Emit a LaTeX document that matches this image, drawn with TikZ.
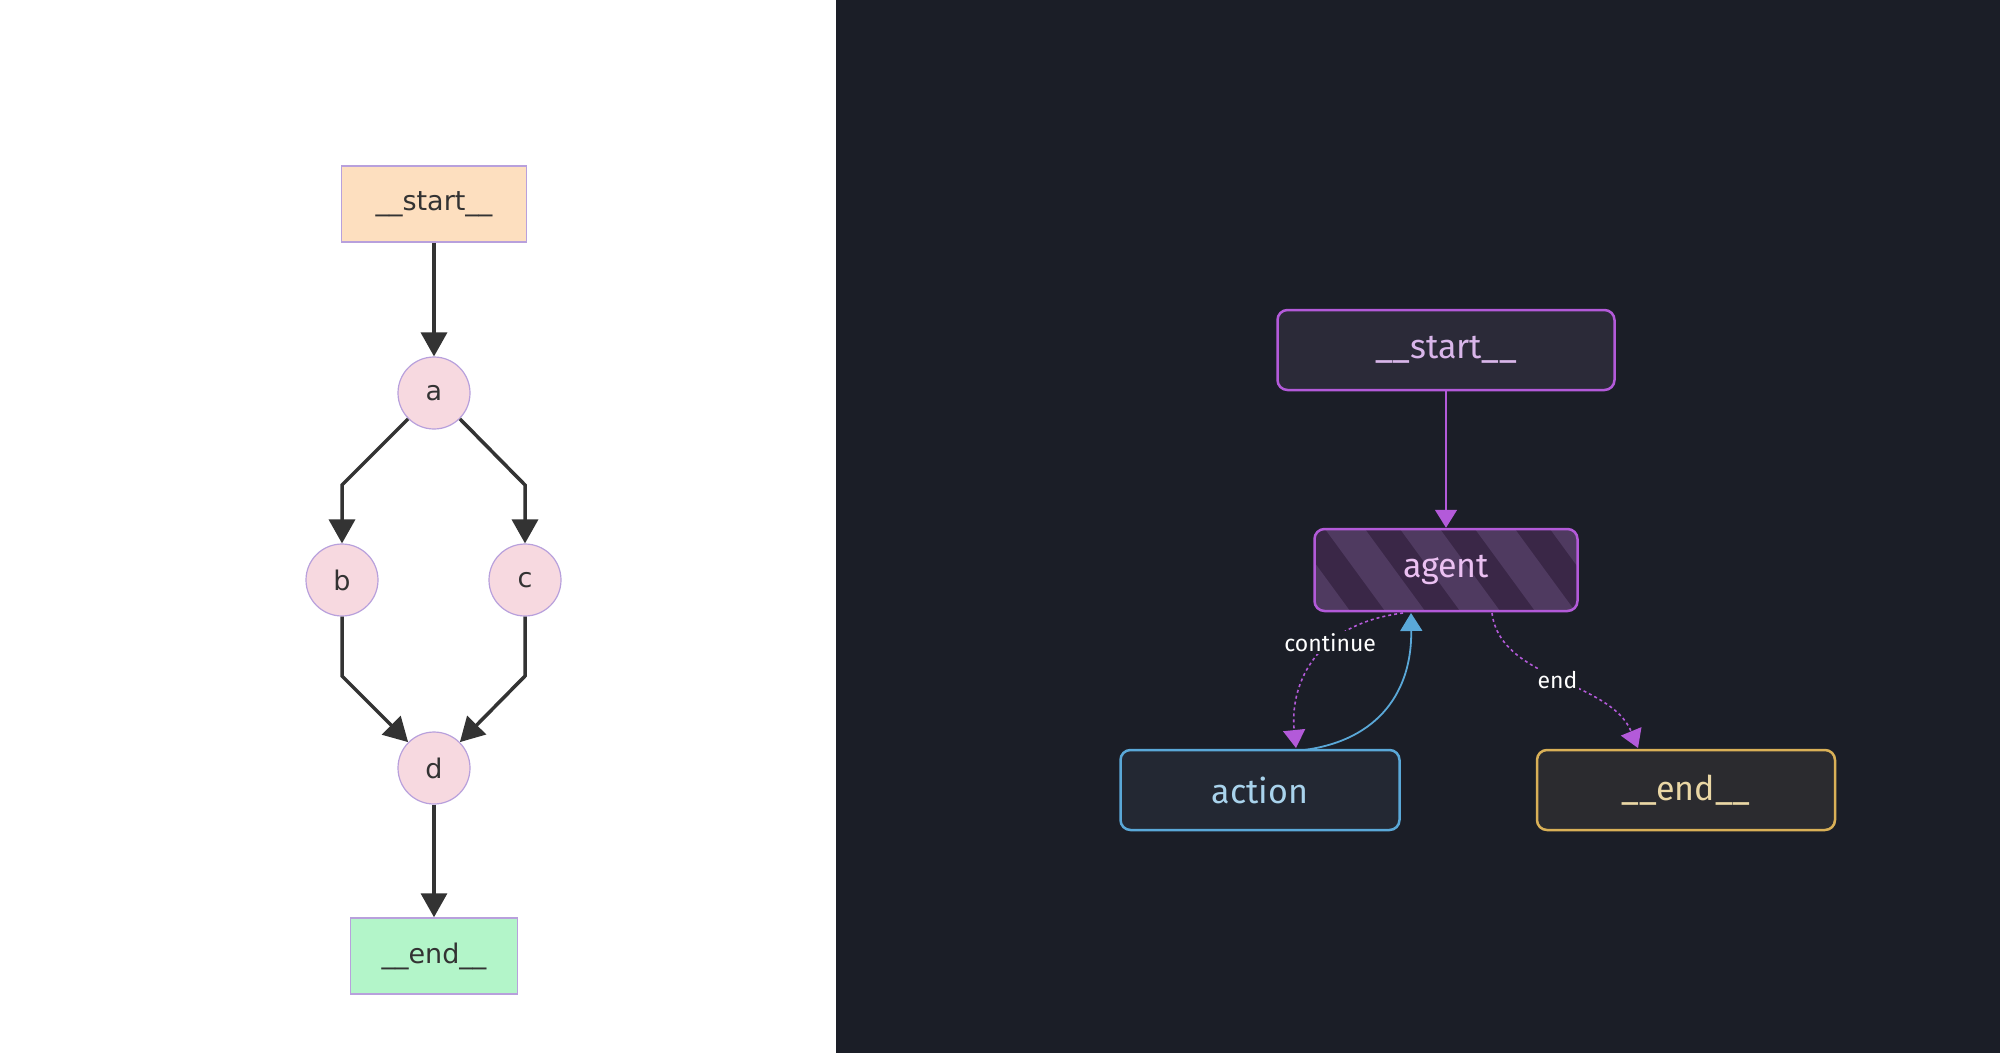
\documentclass[tikz,border=0pt]{standalone}
\usepackage{fontspec}
\setmainfont{DejaVu Sans}
\newfontfamily\darkfont{Fira Sans}
\usetikzlibrary{arrows.meta}
\definecolor{darkbg}{HTML}{1B1E27}
\definecolor{lborder}{HTML}{B8A0DC}
\definecolor{peach}{HTML}{FDDFBF}
\definecolor{mint}{HTML}{B3F5C9}
\definecolor{pinkc}{HTML}{F7D9E0}
\definecolor{edgek}{HTML}{333333}
\definecolor{purp}{HTML}{B35AD9}
\definecolor{bluee}{HTML}{5AA8D8}
\definecolor{gold}{HTML}{D9B057}
\definecolor{stripeA}{HTML}{3A2747}
\definecolor{stripeB}{HTML}{4F3A60}
\definecolor{sfill}{HTML}{2B2A38}
\definecolor{afill}{HTML}{232833}
\definecolor{efill}{HTML}{2B2B2F}
\definecolor{stext}{HTML}{D9B6EA}
\definecolor{agtext}{HTML}{EBC0F2}
\definecolor{actext}{HTML}{A9D3EC}
\definecolor{etext}{HTML}{EAD7A5}
\tikzset{
  lbox/.style={draw=lborder,line width=1.5pt,minimum width=185pt,minimum height=76pt,font=\fontsize{27}{30}\selectfont,text=black!80},
  lcirc/.style={circle,draw=lborder,line width=1.2pt,fill=pinkc,minimum size=72pt,inner sep=0pt,font=\fontsize{27}{30}\selectfont,text=black!80},
  ledge/.style={draw=edgek,line width=3.5pt,-{Triangle[length=24pt,width=26pt]}},
  dbox/.style={rounded corners=10pt,line width=2.5pt,minimum height=80pt,font=\darkfont\fontsize{34}{38}\selectfont},
  dtip/.style={-{Triangle[length=18pt,width=22pt]}},
  dlabel/.style={font=\darkfont\fontsize{23}{26}\selectfont,text=white,fill=darkbg,inner sep=2pt}
}
\begin{document}
\begin{tikzpicture}[x=1pt,y=-1pt]
\useasboundingbox (0,0) rectangle (2000,1053);
\fill[white] (0,0) rectangle (836,1053);
\fill[darkbg] (836,0) rectangle (2000,1053);
% left
\node[lbox,fill=peach] (ls) at (434,204) {\_\_start\_\_};
\node[lcirc] (a) at (434,393) {a};
\node[lcirc] (b) at (342,580) {b};
\node[lcirc] (c) at (525,580) {c};
\node[lcirc] (d) at (434,768) {d};
\node[lbox,fill=mint,minimum width=167pt] (le) at (434,956) {\_\_end\_\_};
\draw[ledge] (ls) -- (a);
\draw[ledge] (a.225) -- (342,485) -- (b);
\draw[ledge] (a.315) -- (525,485) -- (c);
\draw[ledge] (b) -- (342,676) -- (d.135);
\draw[ledge] (c) -- (525,676) -- (d.45);
\draw[ledge] (d) -- (le);
% right
\node[dbox,draw=purp,fill=sfill,minimum width=337pt,text=stext] (rs) at (1446,350) {\_\_start\_\_};
\begin{scope}
\clip[rounded corners=10pt] (1315,529) rectangle (1578,611);
\fill[stripeA] (1315,529) rectangle (1578,611);
\foreach \i in {0,...,7}{
  \fill[stripeB] ({1250+\i*75},529) -- ({1290+\i*75},529) -- ({1350+\i*75},611) -- ({1310+\i*75},611) -- cycle;
}
\end{scope}
\node[dbox,draw=purp,minimum width=263pt,minimum height=82pt,text=agtext] (ag) at (1446,570) {agent};
\node[dbox,draw=bluee,fill=afill,minimum width=279pt,text=actext] (ac) at (1260,790) {action};
\node[dbox,draw=gold,fill=efill,minimum width=298pt,text=etext] (re) at (1686,790) {\_\_end\_\_};
\coordinate (cs) at (1403,613);
\coordinate (ce) at (1296,748);
\coordinate (bs) at (1304,750);
\coordinate (be) at (1411,613);
\coordinate (es) at (1492,613);
\coordinate (ee) at (1638,748);
\draw[purp,line width=1.8pt,dtip] (rs) -- (ag);
\draw[purp,line width=1.6pt,dashed,dtip] (cs) .. controls (1310,625) and (1290,690) .. (ce)
  node[pos=0.35,dlabel] {continue};
\draw[bluee,line width=1.8pt,dtip] (bs) .. controls (1380,740) and (1412,690) .. (be);
\draw[purp,line width=1.6pt,dashed,dtip] (es) .. controls (1500,680) and (1610,680) .. (ee)
  node[pos=0.5,dlabel] {end};
\end{tikzpicture}
\end{document}
